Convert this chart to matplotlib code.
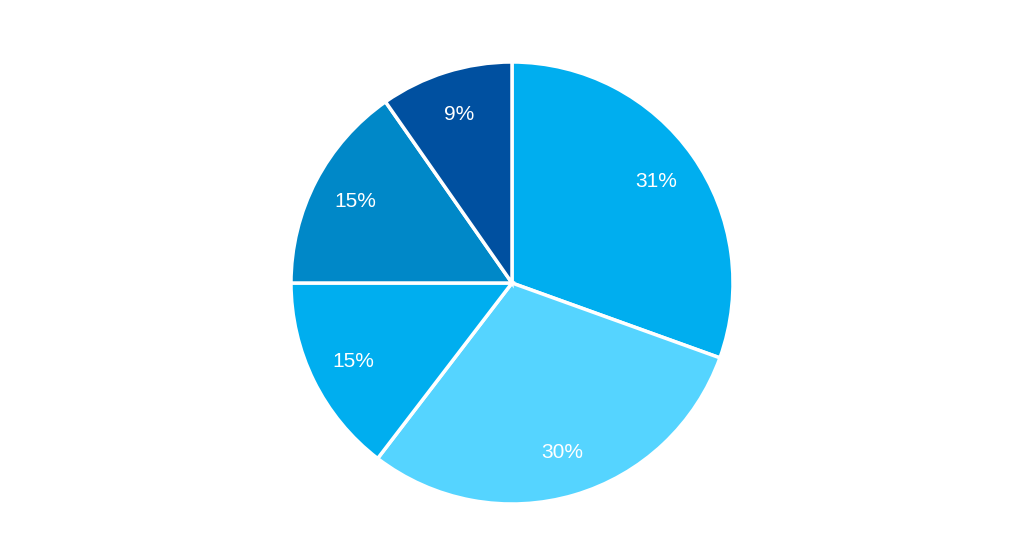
import matplotlib.pyplot as plt

values = [30.5, 29.9, 14.6, 15.3, 9.7]
labels = ["31%", "30%", "15%", "15%", "9%"]
colors = ["#00AEEF", "#55D4FF", "#00AEEF", "#0088C8", "#0050A0"]

fig = plt.figure(figsize=(10.24, 5.36), dpi=100)
cx, cy, r = 512, 283, 221
ax = fig.add_axes([(cx - r) / 1024, (536 - cy - r) / 536, 2 * r / 1024, 2 * r / 536])
wedges, _ = ax.pie(values, colors=colors, startangle=90, counterclock=False,
                   wedgeprops=dict(edgecolor="white", linewidth=2.5))
for w, lab in zip(wedges, labels):
    import numpy as np
    ang = np.deg2rad((w.theta1 + w.theta2) / 2)
    ax.text(0.8 * np.cos(ang), 0.8 * np.sin(ang), lab, ha="center", va="center",
            color="white", fontsize=15, family="Liberation Sans")
ax.set_xlim(-1, 1); ax.set_ylim(-1, 1)
ax.set_aspect("equal")
fig.savefig("out.png", dpi=100)
